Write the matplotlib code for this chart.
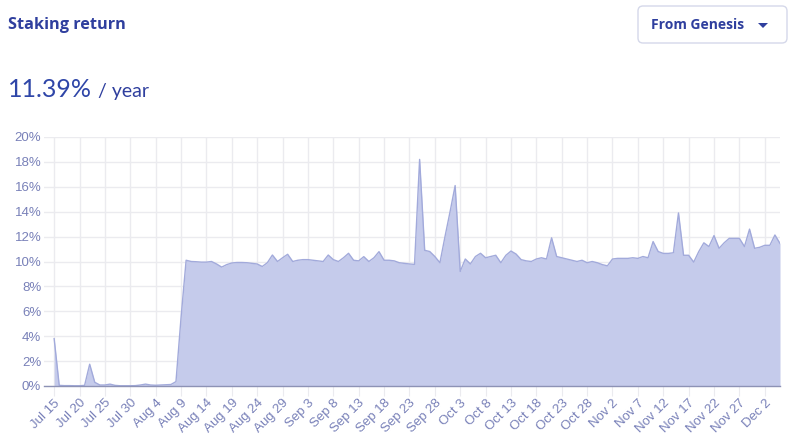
import pandas as pd
import matplotlib.pyplot as plt
from matplotlib.patches import FancyBboxPatch, Polygon

# daily staking return (% / year), starting Jul 15
start_date = "2019-07-15"
returns = [
    3.8, 0.05, 0.03, 0.03, 0.02, 0.02, 0.05, 1.75, 0.3, 0.08,
    0.08, 0.15, 0.05, 0.02, 0.02, 0.02, 0.03, 0.08, 0.15, 0.08,
    0.06, 0.08, 0.1, 0.12, 0.35, 5.5, 10.1, 10.0, 9.98, 9.95,
    9.95, 10.0, 9.8, 9.55, 9.75, 9.88, 9.92, 9.92, 9.9, 9.85,
    9.8, 9.6, 9.9, 10.52, 10.0, 10.3, 10.58, 10.0, 10.1, 10.15,
    10.15, 10.1, 10.05, 10.0, 10.52, 10.15, 10.0, 10.3, 10.66, 10.1,
    10.05, 10.39, 10.0, 10.3, 10.79, 10.1, 10.1, 10.05, 9.9, 9.85,
    9.8, 9.77, 18.2, 10.9, 10.8, 10.4, 9.9, 12.0, 14.0, 16.1,
    9.2, 10.2, 9.8, 10.4, 10.66, 10.3, 10.4, 10.5, 9.9, 10.5,
    10.84, 10.6, 10.15, 10.05, 10.0, 10.2, 10.3, 10.2, 11.9, 10.4,
    10.3, 10.2, 10.1, 10.0, 10.1, 9.9, 10.0, 9.9, 9.75, 9.65,
    10.2, 10.25, 10.25, 10.25, 10.3, 10.25, 10.4, 10.3, 11.6, 10.8,
    10.65, 10.65, 10.7, 13.9, 10.5, 10.5, 9.95, 10.8, 11.5, 11.2,
    12.08, 11.06, 11.5, 11.86, 11.86, 11.86, 11.2, 12.6, 11.06, 11.14,
    11.3, 11.3, 12.13, 11.45,
]
y_ticks = [0, 2, 4, 6, 8, 10, 12, 14, 16, 18, 20]
headline = "11.39%"
title = "Staking return"
period = "From Genesis"

dates = pd.date_range(start_date, periods=len(returns), freq="D")

W, H = 797, 445
fig = plt.figure(figsize=(W / 100, H / 100), dpi=100)

ax = fig.add_axes([44 / W, 1 - 386 / H, (780 - 44) / W, (386 - 137) / H])
fill_c = "#c5cbeb"
line_c = "#a2aadb"
ax.fill_between(dates, returns, 0, color=fill_c, lw=0, zorder=2)
ax.plot(dates, returns, color=line_c, lw=1.0, zorder=3)

ax.set_ylim(0, 20)
ax.set_yticks(y_ticks)
ax.set_yticklabels([f"{v}%" for v in y_ticks])
ax.set_xlim(dates[0] - pd.Timedelta(days=2), dates[-1])
tick_dates = dates[::5]
ax.set_xticks(tick_dates)
ax.set_xticklabels([d.strftime("%b ") + str(d.day) for d in tick_dates],
                   rotation=45, ha="right", va="top", rotation_mode="anchor")

lab_c = "#7880b8"
grid_c = "#ebebef"
ax.grid(True, color=grid_c, lw=1, zorder=0)
ax.tick_params(axis="y", length=0, pad=2, labelsize=9.5, labelcolor=lab_c)
ax.tick_params(axis="x", length=7, color=grid_c, pad=1, labelsize=9.5, labelcolor=lab_c)
for s in ["top", "right", "left"]:
    ax.spines[s].set_visible(False)
ax.spines["bottom"].set_color("#8d92b5")
ax.spines["bottom"].set_linewidth(1)
ax.spines["bottom"].set_zorder(4)
for lbl in ax.get_xticklabels() + ax.get_yticklabels():
    lbl.set_fontfamily(["Liberation Sans", "DejaVu Sans"])

# header in pixel coordinates
over = fig.add_axes([0, 0, 1, 1], zorder=5)
over.set_xlim(0, W)
over.set_ylim(H, 0)
over.axis("off")

blue = "#2f3f9e"
over.text(8, 25, title, fontsize=11.7, fontweight="bold", color=blue,
          fontfamily="Open Sans", va="center", ha="left")
over.text(8, 97, headline, fontsize=18, color="#2f46a8",
          fontfamily="Lato", va="baseline", ha="left")
over.text(98, 97, "/ year", fontsize=14, color=blue,
          fontfamily="Lato", va="baseline", ha="left")

btn = FancyBboxPatch((638, 6), 149, 37, boxstyle="round,pad=0,rounding_size=5",
                     fc="white", ec="#d5d8ea", lw=1)
over.add_patch(btn)
over.text(651, 25, period, fontsize=10, fontweight="bold", color=blue,
          fontfamily="Open Sans", va="center", ha="left")
over.add_patch(Polygon([[758, 23], [768, 23], [763, 28]], closed=True,
                       fc=blue, ec="none"))

fig.savefig("out.png", dpi=100)
